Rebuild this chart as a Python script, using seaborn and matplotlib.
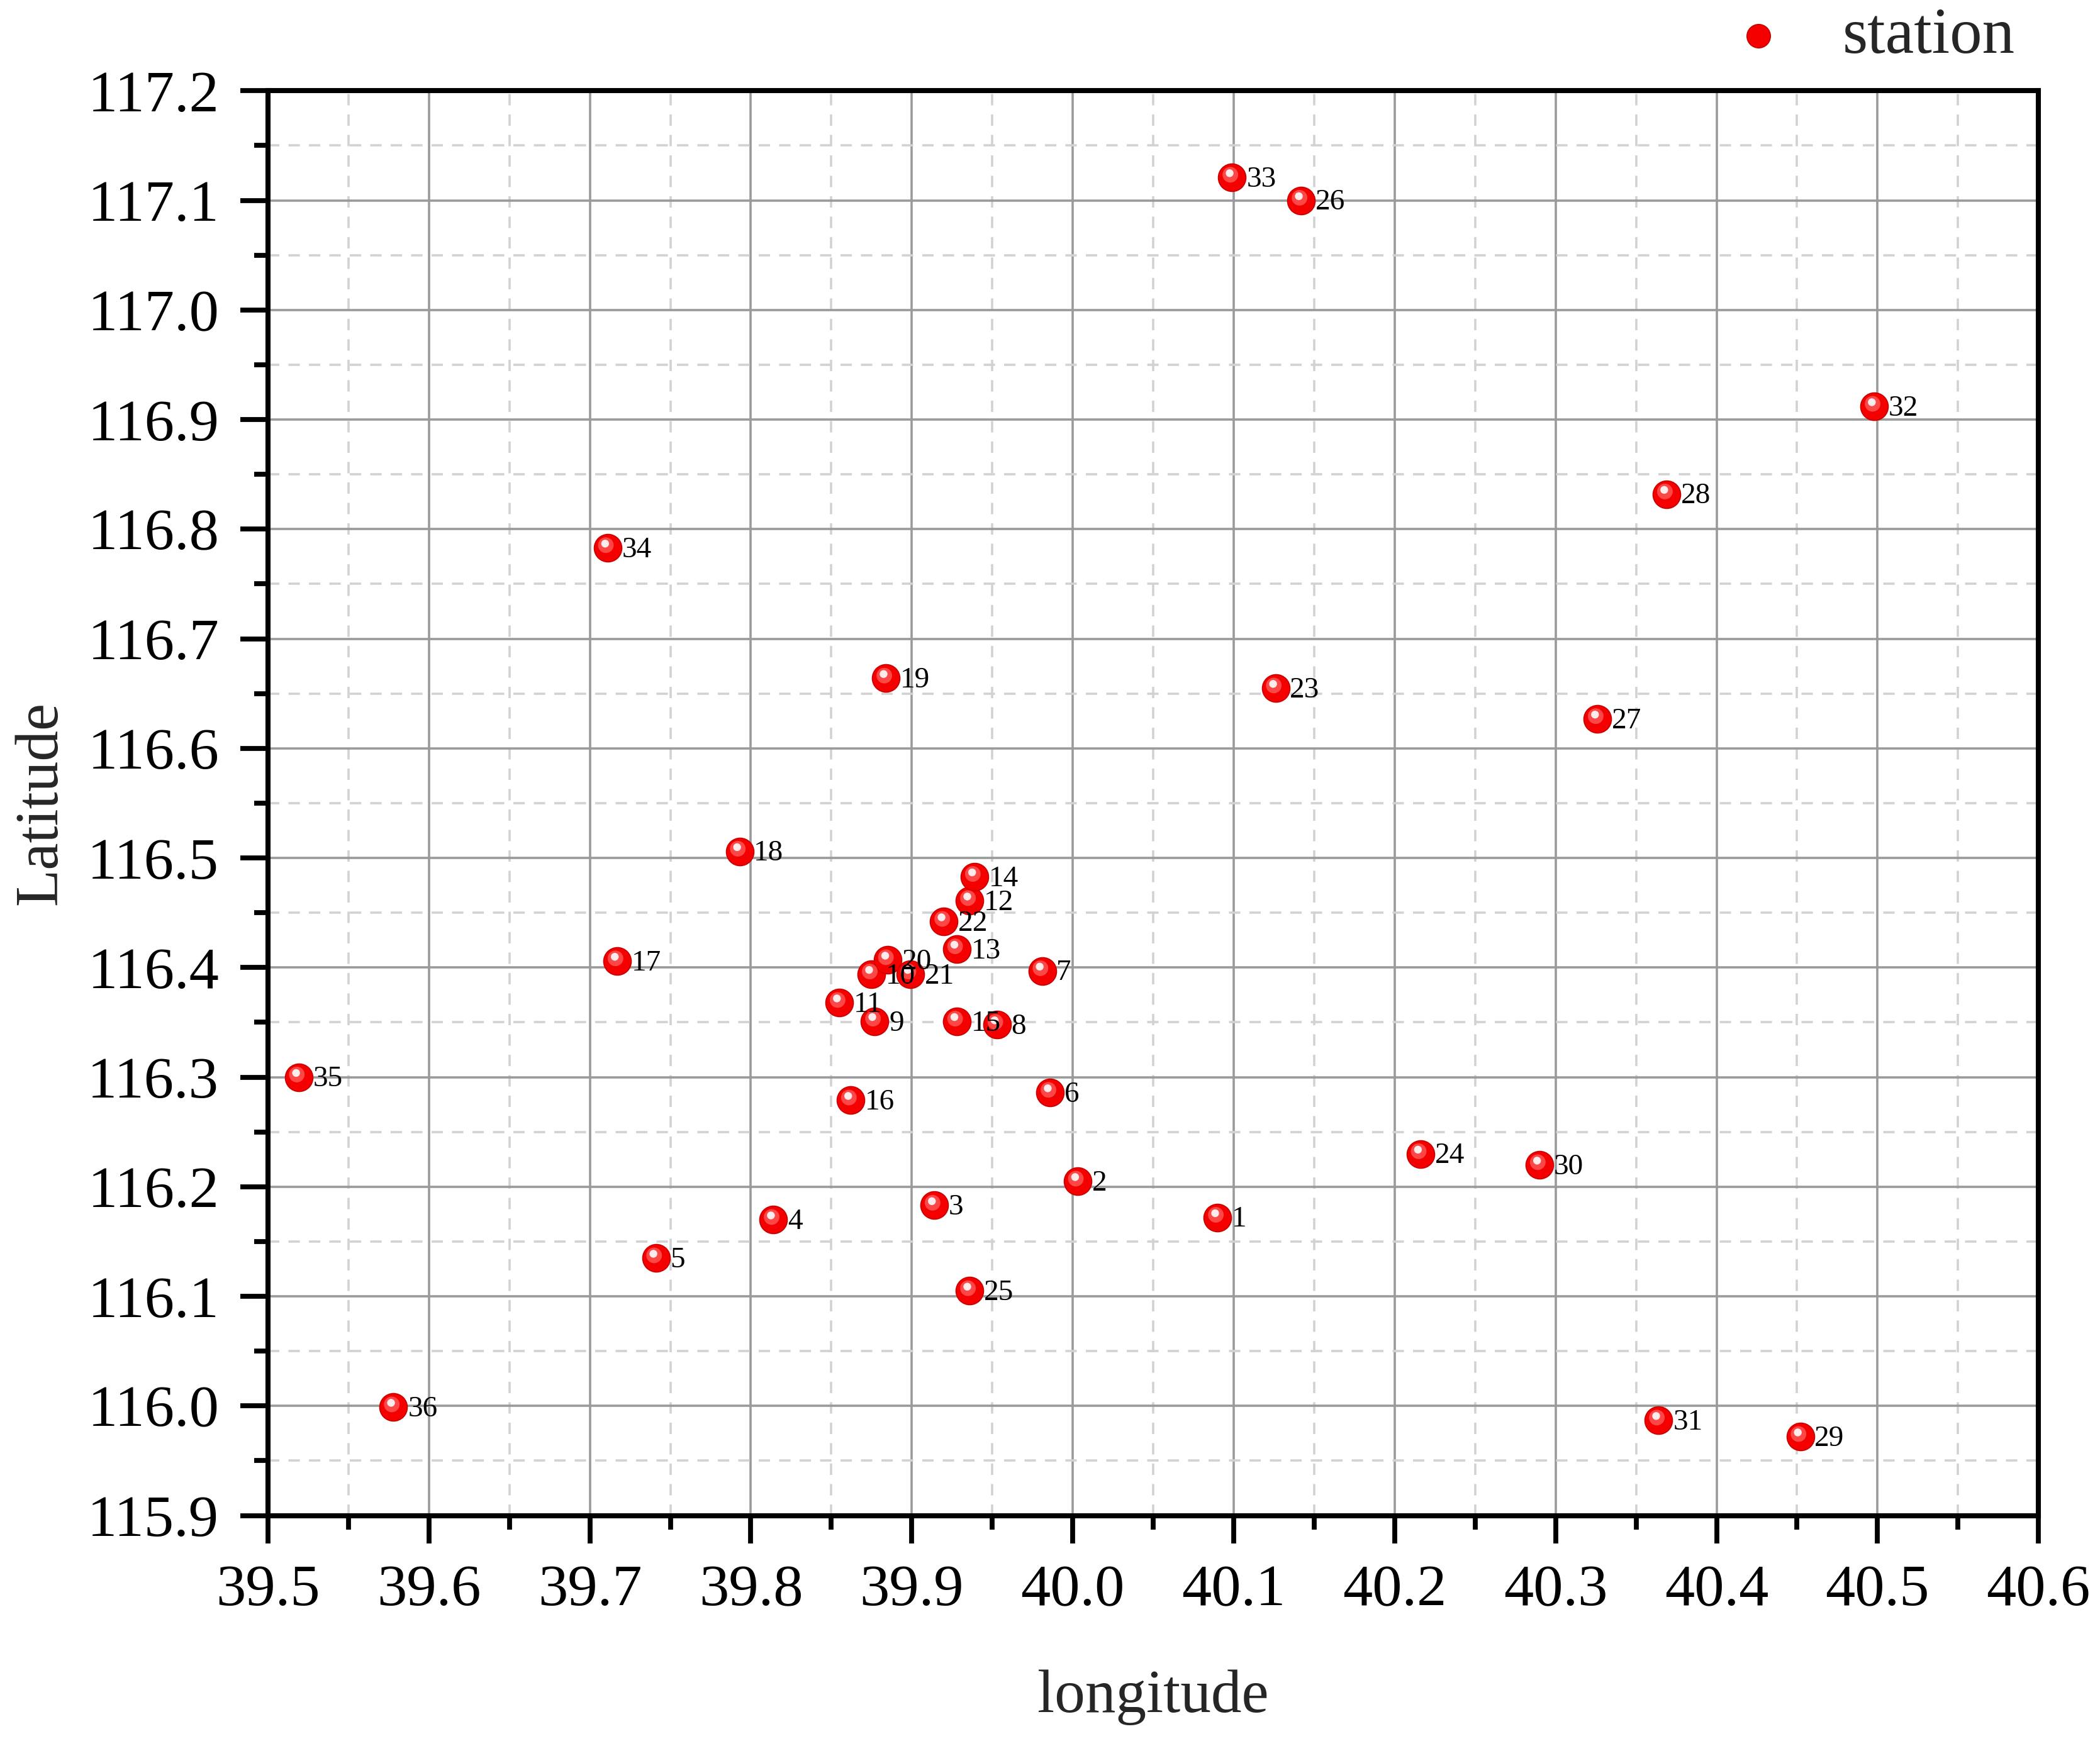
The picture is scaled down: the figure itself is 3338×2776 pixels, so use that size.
import matplotlib
matplotlib.use("Agg")
import matplotlib.pyplot as plt
import matplotlib.transforms as mtransforms
from matplotlib.ticker import MultipleLocator, FormatStrFormatter
import seaborn as sns
import pandas as pd

station_ids = [str(i) for i in range(1, 37)]
longitude = [40.090, 40.003, 39.914, 39.814, 39.741, 39.986, 39.981, 39.953, 39.877, 39.875,
             39.855, 39.936, 39.928, 39.939, 39.928, 39.862, 39.717, 39.793, 39.884, 39.885,
             39.899, 39.920, 40.126, 40.216, 39.936, 40.142, 40.326, 40.369, 40.452, 40.290,
             40.364, 40.498, 40.099, 39.711, 39.519, 39.578]
latitude = [116.172, 116.205, 116.183, 116.170, 116.135, 116.286, 116.397, 116.348, 116.351, 116.394,
            116.368, 116.461, 116.417, 116.483, 116.351, 116.279, 116.406, 116.506, 116.664, 116.407,
            116.394, 116.442, 116.655, 116.230, 116.105, 117.100, 116.627, 116.832, 115.972, 116.220,
            115.987, 116.912, 117.121, 116.783, 116.300, 115.999]

df = pd.DataFrame({"longitude": longitude, "latitude": latitude, "id": station_ids})

sns.set_theme(style="white")
plt.rcParams["font.family"] = ["Liberation Serif", "DejaVu Serif"]

fig = plt.figure(figsize=(16.69, 13.88), dpi=200)
ax = fig.add_axes([0.1276, 0.132, 0.8431, 0.816])

# base spheres
sns.scatterplot(data=df, x="longitude", y="latitude", ax=ax, s=250, color="#f40000",
                edgecolor="#c80000", linewidth=0.6, label="station", zorder=3, legend=False)
# shading highlight layers
sns.scatterplot(data=df, x="longitude", y="latitude", ax=ax, s=80, color="#ff5a5a",
                edgecolor="none", linewidth=0, zorder=4, legend=False, alpha=0.8)
sns.scatterplot(data=df, x="longitude", y="latitude", ax=ax, s=20, color="#ffffff",
                edgecolor="none", linewidth=0, zorder=5, legend=False, alpha=0.9)
for coll, (dx, dy) in zip(ax.collections[1:3], [(-1.0, 1.5), (-1.4, 2.4)]):
    coll.set_offset_transform(ax.transData + mtransforms.ScaledTranslation(dx / 72, dy / 72, fig.dpi_scale_trans))

for lon, lat, sid in zip(df["longitude"], df["latitude"], df["id"]):
    ax.annotate(sid, (lon, lat), xytext=(8.2, -1.3), textcoords="offset points",
                fontsize=17, ha="left", va="center", color="black", zorder=6)

ax.set_xlim(39.5, 40.6)
ax.set_ylim(115.9, 117.2)
ax.xaxis.set_major_locator(MultipleLocator(0.1))
ax.xaxis.set_minor_locator(MultipleLocator(0.05))
ax.yaxis.set_major_locator(MultipleLocator(0.1))
ax.yaxis.set_minor_locator(MultipleLocator(0.05))
ax.xaxis.set_major_formatter(FormatStrFormatter("%.1f"))
ax.yaxis.set_major_formatter(FormatStrFormatter("%.1f"))

ax.set_axisbelow(True)
ax.grid(which="major", color="#9a9a9a", linewidth=1.3, linestyle="-")
ax.grid(which="minor", color="#d2d2d2", linewidth=1.3, linestyle=(0, (5, 4)))

for sp in ax.spines.values():
    sp.set_visible(True)
    sp.set_color("black")
    sp.set_linewidth(2.9)

ax.tick_params(axis="both", which="major", direction="out", length=16, width=2.8,
               labelsize=34, color="black", labelcolor="black", bottom=True, left=True,
               top=False, right=False)
ax.tick_params(axis="both", which="minor", direction="out", length=8, width=2.8,
               color="black", bottom=True, left=True, top=False, right=False)
ax.tick_params(axis="x", which="major", pad=12)
ax.tick_params(axis="y", which="major", pad=12)

ax.set_xlabel("longitude", fontsize=35)
ax.set_ylabel("Latitude", fontsize=35)
ax.xaxis.set_label_coords(0.5, -0.108)
ax.yaxis.set_label_coords(-0.112, 0.5)

handles, labels = ax.get_legend_handles_labels()
fig.legend(handles[:1], labels[:1], loc="upper right", bbox_to_anchor=(0.978, 1.018),
           frameon=False, fontsize=37, handlelength=0.8, handletextpad=0.9,
           markerscale=0.85, borderaxespad=0.2)

fig.savefig("out.png", dpi=200)
